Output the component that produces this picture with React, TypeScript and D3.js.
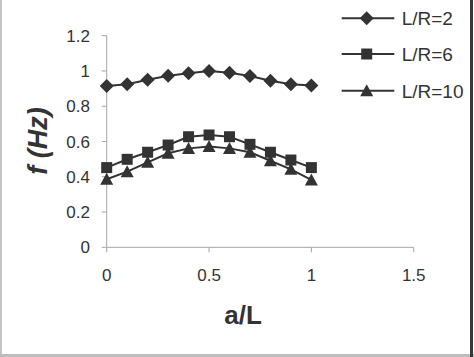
import React from "react";
import * as d3 from "d3";

const xValues = [0, 0.1, 0.2, 0.3, 0.4, 0.5, 0.6, 0.7, 0.8, 0.9, 1.0];
const seriesLR2 = [0.915, 0.925, 0.95, 0.973, 0.987, 1.0, 0.99, 0.972, 0.945, 0.925, 0.917];
const seriesLR6 = [0.452, 0.499, 0.539, 0.58, 0.627, 0.637, 0.627, 0.584, 0.539, 0.495, 0.452];
const seriesLR10 = [0.386, 0.429, 0.482, 0.533, 0.561, 0.571, 0.561, 0.539, 0.491, 0.442, 0.382];
const seriesNames = ["L/R=2", "L/R=6", "L/R=10"];
const markerTypes = ["diamond", "square", "triangle"];
const xTicks = [0, 0.5, 1, 1.5];
const yTicks = [0, 0.2, 0.4, 0.6, 0.8, 1, 1.2];

const W = 474;
const H = 357;
const INK = "#333333";
const AXIS = "#a6a6a6";
const FONT = "'Liberation Sans', Arial, sans-serif";

function markerPath(type: string): string {
  const p = d3.path();
  if (type === "diamond") {
    const r = 7;
    p.moveTo(0, -r);
    p.lineTo(r, 0);
    p.lineTo(0, r);
    p.lineTo(-r, 0);
    p.closePath();
  } else if (type === "square") {
    const r = 5.5;
    p.rect(-r, -r, 2 * r, 2 * r);
  } else {
    const h = 6.5;
    p.moveTo(0, -h);
    p.lineTo(6.5, h - 1);
    p.lineTo(-6.5, h - 1);
    p.closePath();
  }
  return p.toString();
}

export default function App() {
  const x = d3.scaleLinear().domain([0, 1.5]).range([106.7, 413.7]);
  const y = d3.scaleLinear().domain([0, 1.2]).range([247.3, 35.7]);
  const allSeries = [seriesLR2, seriesLR6, seriesLR10];
  const line = d3
    .line<number>()
    .x((_, i) => x(xValues[i]))
    .y((d) => y(d));

  const legendY = [18.3, 54, 90.7];

  return (
    <svg
      width={W}
      height={H}
      style={{ position: "absolute", left: 0, top: 0, background: "#fff" }}
      fontFamily={FONT}
    >
      <rect x={0} y={0} width={W} height={H} fill="#fff" />
      {/* frame edges */}
      <rect x={0} y={0} width={2} height={H} fill="#c4c4c4" />
      <rect x={0} y={354} width={W} height={3} fill="#bdbdbd" />
      <rect x={470} y={0} width={3} height={H} fill="#3a3a3a" />

      {/* axes */}
      <line x1={x(0)} x2={x(0)} y1={y(1.2)} y2={y(0)} stroke={AXIS} strokeWidth={1} />
      <line x1={x(0)} x2={x(1.5)} y1={y(0)} y2={y(0)} stroke={AXIS} strokeWidth={1} />
      {yTicks.map((t) => (
        <g key={"y" + t}>
          <line x1={x(0) - 5} x2={x(0)} y1={y(t)} y2={y(t)} stroke={AXIS} strokeWidth={1} />
          <text
            x={90}
            y={y(t)}
            dy="0.36em"
            textAnchor="end"
            fontSize={17}
            fill={INK}
          >
            {String(t)}
          </text>
        </g>
      ))}
      {xTicks.map((t) => (
        <g key={"x" + t}>
          <line x1={x(t)} x2={x(t)} y1={y(0)} y2={y(0) + 5} stroke={AXIS} strokeWidth={1} />
          <text x={x(t)} y={281} textAnchor="middle" fontSize={17} fill={INK}>
            {String(t)}
          </text>
        </g>
      ))}

      {/* axis titles */}
      <text x={243} y={324} textAnchor="middle" fontSize={26} fontWeight="bold" fill={INK}>
        a/L
      </text>
      <text
        transform="translate(47,141) rotate(-90)"
        textAnchor="middle"
        fontSize={27}
        fontWeight="bold"
        fontStyle="italic"
        fill={INK}
      >
        f (Hz)
      </text>

      {/* series */}
      {allSeries.map((s, si) => (
        <g key={"s" + si}>
          <path d={line(s) as string} fill="none" stroke={INK} strokeWidth={2} />
          {s.map((v, i) => (
            <path
              key={i}
              d={markerPath(markerTypes[si])}
              transform={`translate(${x(xValues[i])},${y(v)})`}
              fill={INK}
            />
          ))}
        </g>
      ))}

      {/* legend */}
      {seriesNames.map((name, i) => (
        <g key={"l" + i}>
          <line x1={341.7} x2={394.3} y1={legendY[i]} y2={legendY[i]} stroke={INK} strokeWidth={2} />
          <path d={markerPath(markerTypes[i])} transform={`translate(366.7,${legendY[i]})`} fill={INK} />
          <text x={401.7} y={legendY[i]} dy="0.36em" fontSize={19} fill={INK}>
            {name}
          </text>
        </g>
      ))}
    </svg>
  );
}
